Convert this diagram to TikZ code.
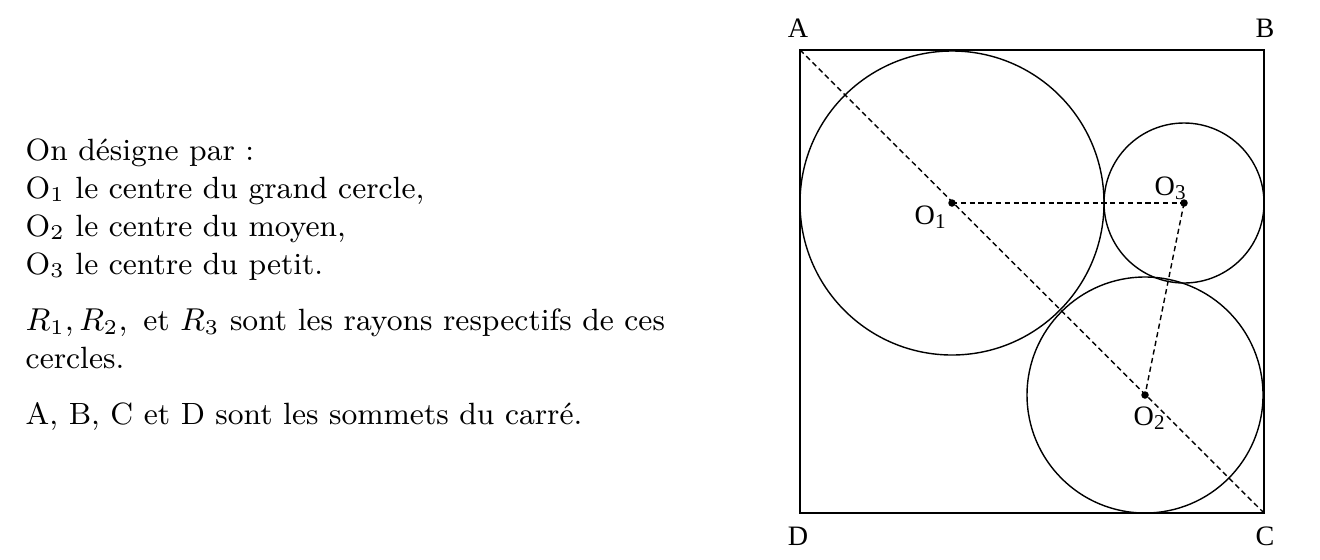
\documentclass[tikz,border=0pt]{standalone}
\usepackage{fontspec}
\newfontfamily\lblfont{Liberation Serif}
\usetikzlibrary{positioning}
\tikzset{
  lbl/.style={font=\lblfont\fontsize{8}{9}\selectfont, inner sep=0pt},
  pointille/.style={dashed, dash pattern=on 1.5pt off 1pt},
  centre/.style={circle, fill=black, inner sep=0pt, minimum size=0.075cm}
}
\begin{document}
\begin{tikzpicture}[line width=0.4pt]
  \useasboundingbox (0,0) rectangle (13.2,5.59);
  % texte
  \node[anchor=north west, inner sep=0pt, align=left,
        font=\fontsize{8.75}{10.8}\selectfont] (texte) at (0.25,4.21)
    {On désigne par :\\
     O$_1$ le centre du grand cercle,\\
     O$_2$ le centre du moyen,\\
     O$_3$ le centre du petit.\\[5.2pt]
     $R_1, R_2,$\, et $R_3$ sont les rayons respectifs de ces\\
     cercles.\\[5.2pt]
     A, B, C et D sont les sommets du carré.};
  % carre et centres
  \path
    (8.00,5.09) coordinate (A)
    (12.64,5.09) coordinate (B)
    (12.64,0.46) coordinate (C)
    (8.00,0.46) coordinate (D)
    (9.52,3.56) coordinate (O1)
    (11.45,1.64) coordinate (O2)
    (11.84,3.56) coordinate (O3);
  \draw (A) -- (B) -- (C) -- (D) -- cycle;
  \draw (O1) circle (1.52);
  \draw (O2) circle (1.18);
  \draw (O3) circle (0.80);
  \begin{scope}[pointille]
    \draw (A) to (C);
    \draw (O1) to (O3);
    \draw (O3) to (O2);
  \end{scope}
  \node[centre] (p1) at (O1) {};
  \node[centre] (p2) at (O2) {};
  \node[centre] (p3) at (O3) {};
  % etiquettes
  \node[lbl, above=0.12 of A, xshift=-0.02cm] (lA) {A};
  \node[lbl, above=0.12 of B, xshift=0.01cm] (lB) {B};
  \node[lbl, below=0.13 of C, xshift=0.01cm] (lC) {C};
  \node[lbl, below=0.13 of D, xshift=-0.02cm] (lD) {D};
  \node[lbl, anchor=north east] (l1) at ([xshift=-0.04cm,yshift=-0.02cm]O1) {O\textsubscript{1}};
  \node[lbl, anchor=base west] (l2) at ([xshift=-0.12cm,yshift=-0.30cm]O2) {O\textsubscript{2}};
  \node[lbl, anchor=base east] (l3) at ([xshift=0.04cm,yshift=0.08cm]O3) {O\textsubscript{3}};
\end{tikzpicture}
\end{document}
